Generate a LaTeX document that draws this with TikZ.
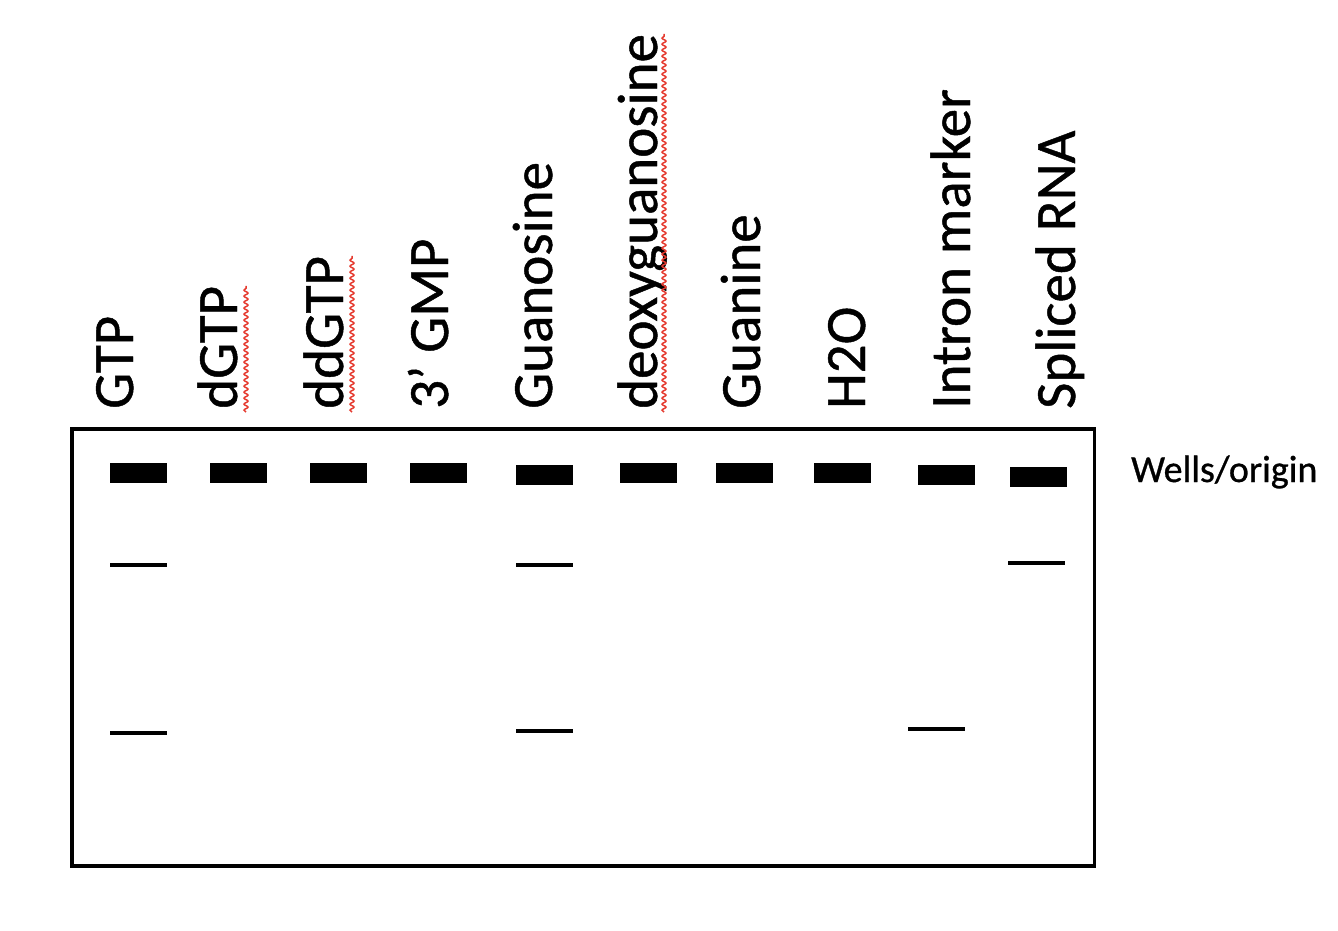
\documentclass[tikz,border=0pt]{standalone}
\usepackage{fontspec}
\setmainfont{Carlito}[FakeBold=0.8]
\usepackage{xcolor}
\definecolor{cInk}{HTML}{000000}
\definecolor{cSpell}{HTML}{E53A2F}
\usepackage{tikz}
\usetikzlibrary{decorations.pathmorphing}
\tikzset{
  gel-frame/.style={draw=cInk,line width=3.5pt},
  gel-well/.style={fill=cInk,inner sep=0pt,minimum width=57pt,minimum height=20pt},
  gel-band/.style={fill=cInk,inner sep=0pt,minimum width=57pt,minimum height=4pt},
  lane-label/.style={rotate=90,anchor=base west,inner sep=0pt,
    font=\fontsize{57}{68}\selectfont},
  side-label/.style={anchor=base west,inner sep=0pt,
    font=\fontsize{38}{46}\selectfont},
  % red wavy underline of the spell checker
  spell-mark/.style={draw=cSpell,line width=1.5pt,decorate,
    decoration={snake,amplitude=2pt,segment length=6pt}},
}

\begin{document}
\begin{tikzpicture}[x=1pt,y=-1pt]
  \useasboundingbox (0,0) rectangle (1338,930);
  \draw[gel-frame] (72,429) rectangle (1094.5,866);

  % lane labels
  \node[lane-label] (gtp)   at (133,409)  {GTP};
  \node[lane-label] (dgtp)  at (237,409)  {dGTP};
  \node[lane-label] (ddgtp) at (343,409)  {ddGTP};
  \node[lane-label] (gmp)   at (448,409)  {3’ GMP};
  \node[lane-label] (guo)   at (552,409)  {Guanosine};
  \node[lane-label] (dguo)  at (657,409)  {deoxyguanosine};
  \node[lane-label] (gua)   at (760,409)  {Guanine};
  \node[lane-label] (water) at (865,409)  {H2O};
  \node[lane-label] (intr)  at (970,409)  {Intron marker};
  \node[lane-label] (splc)  at (1075,409) {Spliced RNA};
  \draw[spell-mark] ([xshift=9pt,yshift=-3pt]dgtp.base west) -- ([xshift=9pt]dgtp.base east);
  \draw[spell-mark] ([xshift=9pt,yshift=-3pt]ddgtp.base west) -- ([xshift=9pt]ddgtp.base east);
  \draw[spell-mark] ([xshift=7pt,yshift=-3pt]dguo.base west) -- ([xshift=7pt]dguo.base east);

  % wells
  \foreach \n/\x/\y in {1/138.5/473,2/238.5/473,3/338.5/473,4/438.5/473,
      5/544.5/475,6/648.5/473,7/744.5/473,8/842.5/473,9/946.5/475,10/1038.5/477}
    \node[gel-well] (well\n) at (\x,\y) {};
  \node[side-label] (origin) at (1131,482) {Wells/origin};

  % bands
  \node[gel-band] (gtp-hi)  at (138.5,565) {};
  \node[gel-band] (gtp-lo)  at (138.5,733) {};
  \node[gel-band] (guo-hi)  at (544.5,565) {};
  \node[gel-band] (guo-lo)  at (544.5,731) {};
  \node[gel-band] (intr-lo) at (936.5,729) {};
  \node[gel-band] (splc-hi) at (1036.5,563) {};
\end{tikzpicture}
\end{document}
